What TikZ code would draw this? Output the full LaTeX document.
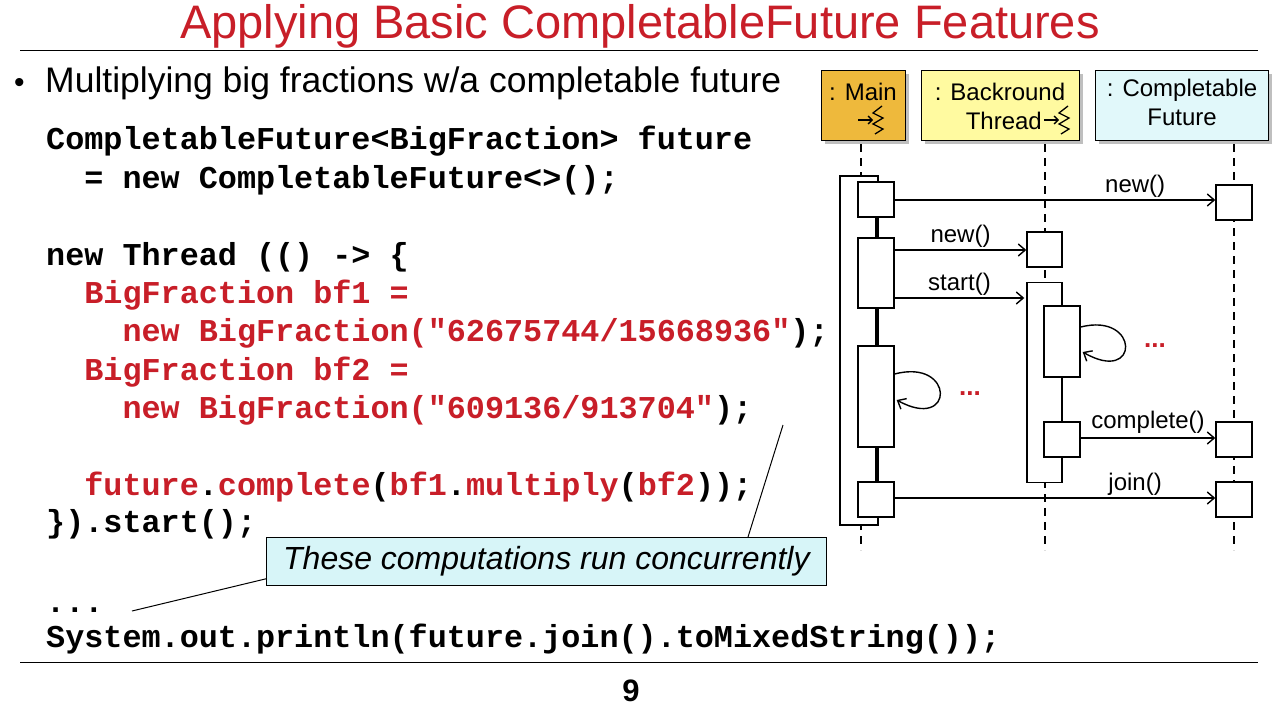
\documentclass[tikz,border=0pt]{standalone}
\usepackage{fontspec}
\setmainfont{Liberation Sans}
\newfontfamily\codefont{Liberation Mono}
\usetikzlibrary{arrows.meta}
\definecolor{tred}{RGB}{200,30,40}
\definecolor{mainfill}{RGB}{238,185,60}
\definecolor{backfill}{RGB}{255,250,160}
\definecolor{futfill}{RGB}{225,248,250}
\definecolor{callfill}{RGB}{215,245,248}
\tikzset{
 head/.style={draw=black,line width=1.2pt,inner sep=0pt,font=\fontsize{24}{29}\selectfont,align=center},
 act/.style={draw=black,fill=white,line width=1.4pt},
 msg/.style={line width=1.4pt,-{Straight Barb[length=7pt,width=12pt]}},
 lbl/.style={font=\fontsize{24}{28}\selectfont,inner sep=1pt},
 life/.style={line width=1.4pt,dash pattern=on 8pt off 6pt},
 code/.style={anchor=base west,inner sep=0pt,font=\codefont\bfseries\fontsize{31.8}{38}\selectfont},
 dots/.style={text=tred,font=\bfseries\fontsize{26}{26}\selectfont},
}
\newcommand{\rd}[1]{\textcolor{tred}{#1}}
\newcommand{\thr}[2]{\draw[line width=1.3pt,->,>={Straight Barb[length=4pt,width=8pt]}] (#1-18,#2) -- (#1-3,#2);
 \draw[line width=1.3pt] (#1+6,#2-14) -- (#1-3,#2-7) -- (#1+7,#2-2) -- (#1-3,#2+4) -- (#1+7,#2+9) -- (#1-1,#2+14);}
\begin{document}
\begin{tikzpicture}[x=1pt,y=-1pt]
\useasboundingbox[fill=white] (0,0) rectangle (1280,720);
% title and rules
\node[text=tred,font=\fontsize{47}{50}\selectfont,inner sep=0pt,anchor=base] (title) at (640,38) {Applying Basic CompletableFuture Features};
\draw[line width=1pt] (20,50) -- (1258,50);
\draw[line width=1pt] (20,662) -- (1258,662);
\node[font=\bfseries\fontsize{31}{31}\selectfont] (pg) at (631,691) {9};
\node[anchor=base west,inner sep=0pt,font=\fontsize{30}{34}\selectfont] (bul) at (14,92) {•};
\node[anchor=base west,inner sep=0pt,font=\fontsize{35.5}{38}\selectfont] (bult) at (45,92) {Multiplying big fractions w/a completable future};
% code
\node[code] (c1) at (46,149) {CompletableFuture<BigFraction> future};
\node[code] (c2) at (46,188) {\ \ = new CompletableFuture<>();};
\node[code] (c3) at (46,265) {new Thread (() -> \{};
\node[code] (c4) at (46,303) {\ \ \rd{BigFraction bf1 =}};
\node[code] (c5) at (46,341) {\ \ \ \ \rd{new BigFraction("62675744/15668936"}\rlap{);}};
\node[code] (c6) at (46,380) {\ \ \rd{BigFraction bf2 =}};
\node[code] (c7) at (46,418) {\ \ \ \ \rd{new BigFraction("609136/913704"});};
\node[code] (c8) at (46,495) {\ \ \rd{future}.\rd{complete}(\rd{bf1}.\rd{multiply}(\rd{bf2}));};
\node[code] (c9) at (46,532) {\}).start();};
\node[code] (c10) at (46,612) {...};
\node[code] (c11) at (46,647) {System.out.println(future.join().toMixedString());};
% callout
\coordinate (p1) at (132,611);
\coordinate (p2) at (783,425);
\node[draw=black,fill=callfill,line width=0.8pt,minimum width=560pt,minimum height=48pt,anchor=north west,font=\itshape\fontsize{32}{34}\selectfont] (call) at (266,537) {These computations run concurrently};
\draw[line width=1pt] (call.south west) ++(0,-7) -- (p1);
\draw[line width=1pt] (748,537) -- (p2);
% heads
\fill[gray!50] (825,74) rectangle (909,144);
\fill[gray!50] (925,74) rectangle (1083,144);
\fill[gray!50] (1099,74) rectangle (1272,144);
\node[head,fill=mainfill,minimum width=84pt,minimum height=70pt,anchor=north west] (hm) at (821,70) {};
\node[lbl] (hmt) at (863,92) {: Main};
\thr{876}{120}
\node[head,fill=backfill,minimum width=158pt,minimum height=70pt,anchor=north west] (hb) at (921,70) {};
\node[lbl] (hbt1) at (1000,92) {: Backround};
\node[lbl,anchor=east] (hbt2) at (1043,121) {Thread};
\thr{1062}{120}
\node[head,fill=futfill,minimum width=173pt,minimum height=70pt,anchor=north west] (hf) at (1095,70) {\strut: Completable\\\strut Future};
% lifelines
\draw[life] (861,144) -- (861,550);
\draw[life] (1045,144) -- (1045,550);
\draw[life] (1234,144) -- (1234,550);
% main activations
\draw[act] (840,176) rectangle (878,525);
\draw[line width=1.4pt] (876,217) -- (876,482);
\node[act,minimum width=36pt,minimum height=35pt,inner sep=0pt] (m1) at (876,199.5) {};
\node[act,minimum width=36pt,minimum height=70pt,inner sep=0pt] (m2) at (876,273) {};
\node[act,minimum width=36pt,minimum height=101pt,inner sep=0pt] (m3) at (876,396.5) {};
\node[act,minimum width=36pt,minimum height=35pt,inner sep=0pt] (m4) at (876,499.5) {};
% background
\node[act,minimum width=35pt,minimum height=35pt,inner sep=0pt] (b0) at (1044.5,249.5) {};
\node[act,minimum width=35pt,minimum height=200pt,inner sep=0pt,anchor=north] (b1) at (1044.5,282) {};
\draw[line width=1.4pt] (1062,377) -- (1062,422);
\node[act,minimum width=36pt,minimum height=71pt,inner sep=0pt] (b2) at (1062,341.5) {};
\node[act,minimum width=36pt,minimum height=35pt,inner sep=0pt] (b3) at (1062,439.5) {};
% future
\node[act,minimum width=36pt,minimum height=35pt,inner sep=0pt] (f1) at (1234,202.5) {};
\node[act,minimum width=36pt,minimum height=35pt,inner sep=0pt] (f2) at (1234,439.5) {};
\node[act,minimum width=36pt,minimum height=35pt,inner sep=0pt] (f3) at (1234,499.5) {};
% messages
\draw[msg] (m1.east |- 0,200) -- node[lbl,pos=0.75,above=1pt]{new()} (f1.west |- 0,200);
\draw[msg] (m2.east |- 0,250) -- node[lbl,above=1pt]{new()} (b0.west |- 0,250);
\draw[msg] (m2.east |- 0,298) -- node[lbl,above=1pt]{start()} ([xshift=-2pt]b1.west |- 0,298);
\draw[msg] (b3.east |- 0,438) -- node[lbl,pos=0.5,above=3pt]{complete()} (f2.west |- 0,438);
\draw[msg] (m4.east |- 0,498) -- node[lbl,pos=0.75,above=1pt]{join()} (f3.west |- 0,498);
% self loops
\draw[msg] (m3.east |- 0,374) .. controls (955,358) and (955,432) .. ([xshift=2pt]m3.east |- 0,400);
\node[dots] (d1) at (970,394) {...};
\draw[msg] (b2.east |- 0,327) .. controls (1140,312) and (1140,385) .. ([xshift=2pt]b2.east |- 0,352);
\node[dots] (d2) at (1155,346) {...};
\end{tikzpicture}
\end{document}
